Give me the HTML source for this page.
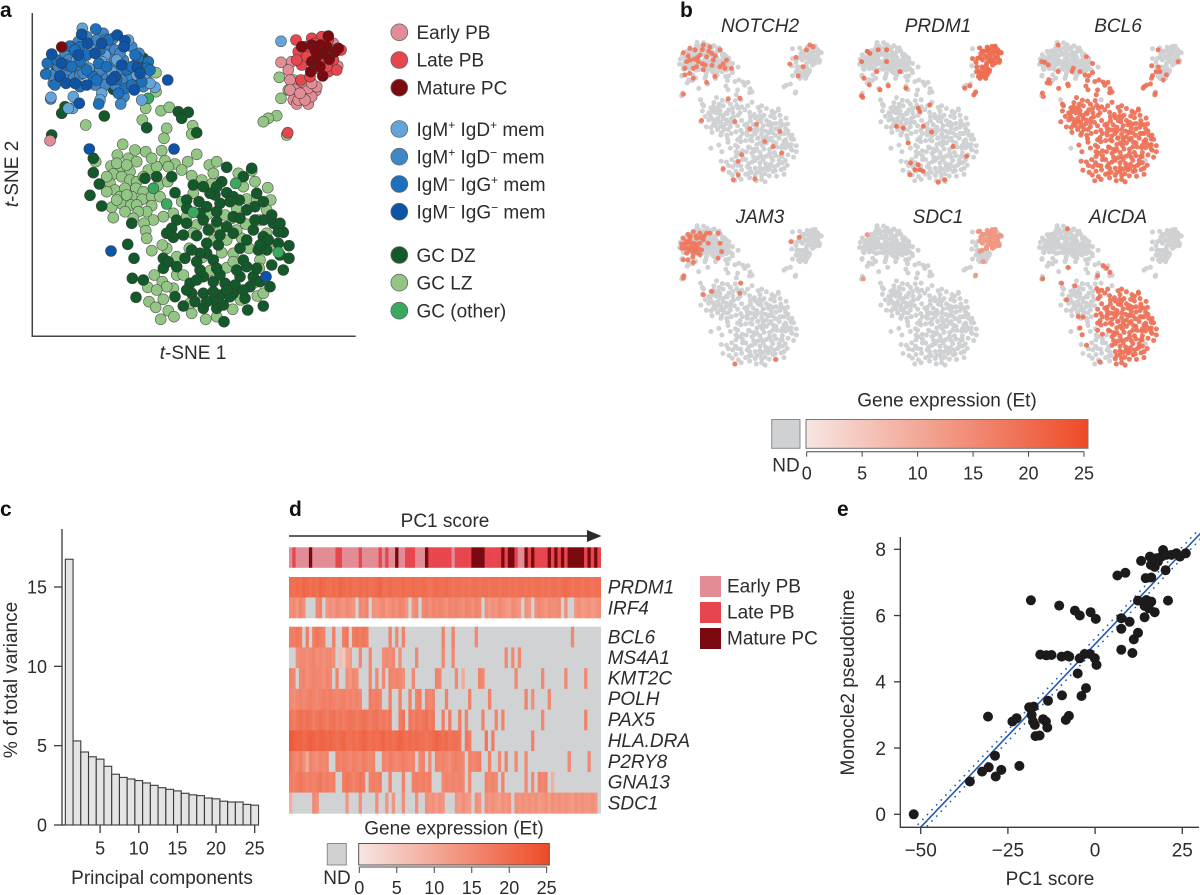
<!DOCTYPE html>
<html lang="en">
<head>
<meta charset="utf-8">
<title>Single-cell gene expression figure</title>
<style>
html,body{margin:0;padding:0;background:#fff;}
svg{display:block;}
text{font-family:"Liberation Sans",Arial,sans-serif;fill:#2c2c2c;font-size:19px;}
.it{font-style:italic;}
.letter{font-weight:bold;font-size:21px;fill:#111;}
.mid{text-anchor:middle;}
</style>
</head>
<body>
<svg id="fig" xmlns="http://www.w3.org/2000/svg" width="1200" height="895" viewBox="0 0 1200 895">
<defs>
<linearGradient id="etGrad" x1="0" x2="1" y1="0" y2="0">
<stop offset="0" stop-color="#f6e6e2"/>
<stop offset="1" stop-color="#ee4b27"/>
</linearGradient>
<clipPath id="eClip"><rect x="900" y="531" width="300" height="296"/></clipPath>
</defs>

<text class="letter" x="0" y="17">a</text>
<text class="letter" x="680" y="17">b</text>
<text class="letter" x="0" y="516">c</text>
<text class="letter" x="289" y="516">d</text>
<text class="letter" x="837" y="516">e</text>

<g id="panelA">
<path d="M32.3 13V336.3H355.7" fill="none" stroke="#444" stroke-width="1.5"/>
<text class="mid" x="193" y="359"><tspan font-style="italic">t</tspan>-SNE 1</text>
<text class="mid" transform="rotate(-90 18 174)" x="18" y="174"><tspan font-style="italic">t</tspan>-SNE 2</text>
</g>

<g id="legendA">
<text x="416.5" y="39">Early PB</text>
<text x="416.5" y="66.5">Late PB</text>
<text x="416.5" y="94.5">Mature PC</text>
<text x="416.5" y="136">IgM<tspan font-size="12" dy="-7">+</tspan><tspan dy="7"> IgD</tspan><tspan font-size="12" dy="-7">+</tspan><tspan dy="7"> mem</tspan></text>
<text x="416.5" y="163.5">IgM<tspan font-size="12" dy="-7">+</tspan><tspan dy="7"> IgD</tspan><tspan font-size="12" dy="-7">−</tspan><tspan dy="7"> mem</tspan></text>
<text x="416.5" y="191">IgM<tspan font-size="12" dy="-7">−</tspan><tspan dy="7"> IgG</tspan><tspan font-size="12" dy="-7">+</tspan><tspan dy="7"> mem</tspan></text>
<text x="416.5" y="218.5">IgM<tspan font-size="12" dy="-7">−</tspan><tspan dy="7"> IgG</tspan><tspan font-size="12" dy="-7">−</tspan><tspan dy="7"> mem</tspan></text>
<text x="416.5" y="262">GC DZ</text>
<text x="416.5" y="289.5">GC LZ</text>
<text x="416.5" y="317.5">GC (other)</text>
</g>

<g id="panelB">
<text class="it mid" x="760" y="32">NOTCH2</text>
<text class="it mid" x="938" y="32">PRDM1</text>
<text class="it mid" x="1118" y="32">BCL6</text>
<text class="it mid" x="760" y="223">JAM3</text>
<text class="it mid" x="938" y="223">SDC1</text>
<text class="it mid" x="1118" y="223">AICDA</text>
<text class="mid" x="947" y="406.5">Gene expression (Et)</text>
<rect x="771.7" y="419.5" width="28.3" height="28.8" fill="#cfd1d3" stroke="#8c8c8c" stroke-width="1"/>
<text class="mid" x="786" y="471.5">ND</text>
<rect x="806" y="419.5" width="282" height="28.8" fill="url(#etGrad)" stroke="#777" stroke-width="1"/>
</g>

<g id="panelC">
<text class="mid" x="162" y="884">Principal components</text>
<text class="mid" transform="rotate(-90 17 680)" x="17" y="680">% of total variance</text>
</g>

<g id="panelD">
<text class="mid" x="445" y="527">PC1 score</text>
<path d="M289 536H590" stroke="#2c2c2c" stroke-width="1.5" fill="none"/>
<path d="M587 530L601.5 536L587 542Z" fill="#2c2c2c"/>
<text x="727" y="592.5">Early PB</text>
<text x="727" y="618.5">Late PB</text>
<text x="727" y="644.5">Mature PC</text>
<rect x="700" y="576" width="21" height="21" fill="#e28d95"/>
<rect x="700" y="602" width="21" height="21" fill="#e8464f"/>
<rect x="700" y="628" width="21" height="21" fill="#7b0a10"/>
<text class="mid" x="454" y="834.5">Gene expression (Et)</text>
<rect x="327.3" y="843.5" width="19" height="21.5" fill="#cfd1d3" stroke="#8c8c8c" stroke-width="1"/>
<text class="mid" x="337" y="884">ND</text>
<rect x="358.7" y="843.5" width="190.6" height="21.5" fill="url(#etGrad)" stroke="#555" stroke-width="1"/>
</g>

<g id="panelE">
<text class="mid" x="1050" y="885">PC1 score</text>
<text class="mid" transform="rotate(-90 854 682.5)" x="854" y="682.5">Monocle2 pseudotime</text>
</g>
</svg>

<script>
// ---------- Panel a: t-SNE embedding (arbitrary t-SNE units) ----------
const gcLz=[[468,782],[437,675],[483,668],[508,678],[427,640],[257,625],[500,615],[492,585],[578,623],[575,598],[468,725],[838,768],[865,730],[843,705],[830,653],[805,645],[790,635],[860,595],[880,760],
[368,567],[405,550],[437,545],[352,535],[385,525],[410,515],[333,502],[362,490],[287,515],[485,548],[495,518],[525,508],[590,537],[563,515],[628,505],[650,515],[445,490],[390,485],[340,478],[365,470],[390,460],[410,455],[330,450],[345,430],[375,435],[408,435],[430,425],[360,410],[395,410],[427,402],[455,410],[475,445],[503,455],[362,390],[393,385],[335,378],[455,383],[375,365],[340,347],[575,473],[605,460],[637,450],[715,480],[755,488],[765,455],[580,420],[545,395],[520,360],[490,350],[460,340],[432,330],[437,308],[440,285],[740,403],[803,437],[812,400],[800,370],[710,375],[622,357],[560,350],[590,325],[628,312],[695,345],[737,328],[777,340],[725,285],[680,280],[825,262],[780,220],[778,195],[747,255],[665,242],[607,228],[568,255],[500,255],[487,265],[455,248],[680,197],[630,188],[463,175],[487,155],[530,175],[520,135],[443,138],[490,102],[447,95],[467,78],[505,68],[482,42],[522,50],[575,60],[617,42],[698,72],[772,112],[722,100],
[350,510],[320,470],[380,505],[430,470],[470,500],[455,525],[350,400],[410,385],[320,425],[380,415],[440,365],[415,365],[505,500],[545,490],[480,410],[400,345],[640,480],[675,355],[730,440],[770,400],[660,310],[710,310],[800,300],[700,240],[640,280],[580,300],[530,230],[550,175],[500,140],[570,90],[650,50],[700,215],[760,150],[790,120],[470,130]];
const gcDz=[[430,825],[340,732],[170,790],[195,680],[185,660],[313,652],[440,617],[155,595],[535,665],[565,663],[545,645],[590,602],
[680,498],[755,495],[280,525],[280,482],[298,448],[270,414],[305,382],[395,330],[383,267],[402,225],[397,165],[430,160],[408,108],[435,465],[470,470],[515,470],[525,422],[597,395],[620,380],[665,455],[680,422],[645,415],[660,390],[650,365],[580,445],[700,410],[770,420],[765,380],[718,400],[740,370],[815,355],[680,320],[650,335],[530,340],[515,315],[520,288],[550,295],[590,293],[760,310],[790,290],[820,330],[850,303],[805,280],[620,270],[655,265],[720,255],[867,263],[867,225],[775,250],[815,205],[850,190],[810,140],[790,82],[743,70],[672,35],[490,225],[490,195],[555,225],[600,190],[570,150],[610,170],[640,155],[675,150],[720,170],[750,140],[700,120],[660,115],[610,120],[575,120],[525,110],[550,82],[610,75],[650,75],[735,105],[640,100],[710,190],[760,170],[620,240],[730,220],[640,220],[600,240],[700,350],[560,400],[610,340],[575,250],[690,110],[620,95],[590,160],[660,175],[740,200],[800,250],[835,305],[790,340],[630,420],[690,395],
[610,440],[650,440],[730,470],[790,395],[840,330],[560,330],[500,300],[625,310],[660,295],[700,300],[740,280],[780,265],[835,270],[840,235],[780,155],[705,145],[670,85],[585,95],[640,125],[680,130],[730,130],[770,195],[560,130],[505,215],[530,200],[590,215],[650,195],[560,375],[600,360],[720,345],[765,340]];
const gcOther=[[460,435],[500,388],[580,363],[707,450],[835,243],[445,705]];
const igmPosIgdNeg=[[310,900],[330,865],[195,840],[330,835],[340,805],[220,830],[232,795],[160,750],[290,880],[318,882],[370,820],[395,860],[305,765],[322,770],[372,710],[362,688],[152,703],[417,840],[360,785],[390,770],[430,740],[270,780],[285,785],[210,775],[190,775],[240,775],[345,850],[360,840],[235,875],[410,810],[260,890],[340,885],[205,820],[175,800],[155,775],[200,790],[250,780],[300,790],[345,745],[315,745],[285,745],[400,745],[365,760],[440,760]];
const igmPosIgdPos=[[247,915],[250,810],[267,795],[218,675],[205,675],[305,720],[465,738],[425,700],[432,775],[843,876],[153,708],[315,835],[230,820],[335,785],[275,850],[305,815],[350,820],[220,710],[410,775],[385,880],[300,700],[450,750]];
const igmNegIggPos=[[287,913],[210,862],[142,810],[137,778],[198,805],[296,810],[296,688],[375,735],[350,762],[300,850],[445,815],[440,795],[380,790],[240,860],[260,835],[240,815],[165,745],[425,755],[415,825],[180,770],[280,770],[395,800],[320,800],[225,850],[260,790],[325,880],[405,835],[395,745],[170,820],[215,800],[355,720],[240,740],[290,760],[450,790]];
const igmNegIggNeg=[[245,897],[155,838],[263,870],[285,840],[352,895],[375,878],[180,772],[198,750],[225,750],[260,745],[238,690],[412,798],[403,730],[503,760],[268,553],[522,553],[333,247],[798,170],[372,860],[345,770],[185,810],[305,870],[335,760],[235,835],[420,780],[365,805]];
const earlyPb=[[843,813],[875,815],[865,790],[885,732],[910,725],[947,728],[880,700],[890,688],[925,688],[935,710],[925,735],[1013,802],[1000,870],[150,578],[905,755],[870,760],[895,700],[915,700],[870,730],[950,740],[900,720],[935,750]];
const latePb=[[888,880],[935,885],[965,890],[895,845],[905,805],[960,810],[1023,850],[985,785],[903,760],[863,602],[930,770],[955,795],[1000,820],[985,880],[1010,790],[945,870],[915,860],[980,800],[920,830],[1000,850],[890,820]];
const maturePc=[[985,892],[935,865],[962,865],[1005,845],[970,840],[935,815],[988,822],[932,785],[968,772],[185,859],[905,860],[1015,855],[950,830],[945,850],[980,860],[960,800]];
const legendSwatchRows=[["early-pb",32.3],["late-pb",60],["mature-pc",87.7],["igm-pos-igd-pos",129],["igm-pos-igd-neg",156.7],["igm-neg-igg-pos",184],["igm-neg-igg-neg",211.7],["gc-dz",255],["gc-lz",282.7],["gc-other",310.7]];
const groupColors={gcLz:"#93c684",gcDz:"#14592a",gcOther:"#3aa95f",igmPosIgdNeg:"#3f87c8",igmPosIgdPos:"#63a5da",igmNegIggPos:"#1c70bc",igmNegIggNeg:"#0e53a5",earlyPb:"#e28d95",latePb:"#e8464f",maturePc:"#7b0a10"};
const legendColors=["#e28d95","#e8464f","#7b0a10","#63a5da","#3f87c8","#1c70bc","#0e53a5","#14592a","#93c684","#3aa95f"];

// ---------- Panel b: expressing cells per gene (same t-SNE units) ----------
const notch2Cells=[[161,851],[202,878],[234,868],[286,899],[327,888],[390,868],[202,804],[254,794],[306,825],[348,804],[431,804],[171,752],[223,752],[296,773],[390,762],[462,752],[171,710],[223,689],[306,662],[358,700],[161,588],[265,836],[338,846],[244,762],[286,742],[421,752],[182,794],[951,899],[930,868],[864,821],[826,779],[910,762],[878,704],[972,888],[442,559],[514,563],[275,422],[483,416],[577,370],[618,399],[722,258],[774,216],[525,206],[504,164],[410,118],[504,80],[608,53],[473,48],[670,290],[764,353],[230,810],[280,870],[190,830],[320,860],[360,830],[280,780],[200,720],[250,820],[340,770],[410,780]];
const prdm1Cells=[[202,846],[254,868],[306,868],[150,794],[244,731],[306,794],[390,731],[165,689],[198,647],[265,616],[317,641],[427,626],[157,569],[504,500],[514,479],[577,521],[369,385],[410,374],[535,385],[587,349],[441,280],[456,154],[504,143],[535,101],[452,80],[483,111],[514,111],[629,32],[670,48],[722,258],[806,196],[795,626],[826,641],[851,584]];
const bcl6Cells=[[254,899],[150,794],[192,773],[254,731],[348,752],[390,731],[421,710],[202,657],[317,641],[161,573],[878,868],[1003,794],[889,731],[930,710],[837,689],[910,678],[785,626],[858,584]];
const jam3Cells=[[223,878],[265,868],[306,868],[379,868],[161,836],[202,836],[244,836],[286,826],[182,805],[223,805],[265,805],[150,773],[192,773],[234,762],[275,762],[182,742],[223,742],[265,731],[161,700],[223,683],[317,805],[390,805],[400,752],[379,710],[161,584],[165,599],[327,868],[254,773],[213,773],[171,773],[202,815],[244,784],[833,815],[885,842],[519,553],[338,500],[286,479],[514,489],[483,42],[737,70],[190,860],[210,790],[240,800],[170,800],[200,760],[250,745],[150,800],[290,850],[270,840],[220,720],[190,700],[240,850],[205,850],[180,815],[225,770]];
const sdc1Cells=[[878,878],[1003,804],[889,752],[930,773],[910,689],[161,580]];
const aicdaCells=[[535,662],[556,647],[577,620],[500,599],[275,552],[358,536],[306,447],[157,580],[311,895],[317,651],[379,342],[404,227],[390,269],[431,160],[514,55],[410,338]];
const prdm1Groups=["earlyPb","latePb","maturePc"];
const bcl6Groups=["gcLz","gcDz","gcOther"];
const sdc1Groups=["latePb","maturePc"];
const aicdaGroups=["gcLz","gcDz","gcOther"];
const aicdaGateMinX=[490,590];
const aicdaGateMaxY=[520,230];
const aicdaGateMinY=[230,0];
const geneEtLevels=[18,20,19,18,13,19];
const geneNames=["notch2","prdm1","bcl6","jam3","sdc1","aicda"];

// ---------- Colour-bar ticks ----------
const etTicks=[0,5,10,15,20,25];

// ---------- Panel c: variance explained ----------
const pcVariance=[16.75,5.3,4.6,4.3,4.15,3.7,3.2,3.0,2.9,2.8,2.65,2.5,2.35,2.25,2.15,2.0,1.9,1.85,1.7,1.65,1.5,1.45,1.45,1.3,1.25];
const pcXTicks=[5,10,15,20,25];
const pcYTicks=[0,5,10,15];

// ---------- Panel d: heatmap ----------
const cellClass=[0,1,0,0,0,0,2,0,0,0,0,0,0,0,1,1,0,0,0,0,0,1,0,0,0,0,0,1,0,1,0,0,2,0,0,1,1,1,0,0,0,2,1,1,1,1,1,1,1,0,1,1,1,1,1,2,2,2,2,1,1,1,1,1,2,1,2,2,1,0,0,2,1,2,1,1,1,1,2,1,2,1,2,1,2,2,2,2,2,1,2,1,2,1];
const classColors=["#e28d95","#e8464f","#7b0a10"];
const etPRDM1=[19,19,20,19,21,20,19,20,19,21,20,19,19,20,19,21,20,19,20,19,19,20,19,20,19,19,20,21,19,19,20,19,19,19,20,19,19,20,19,19,20,19,18,19,20,19,19,20,19,18,19,19,18,19,18,19,19,18,19,19,18,19,19,18,19,19,18,19,18,19,19,18,19,18,19,19,18,19,18,19,19,18,19,20,19,18,19,19,18,19,19,18,19,19];
const etIRF4=[14,15,13,16,14,0,0,0,15,16,0,13,14,13,15,14,13,15,14,13,0,15,14,16,0,14,13,14,15,13,14,15,14,16,15,13,0,14,15,0,15,16,14,16,15,16,15,14,16,15,16,15,14,16,15,14,16,15,0,14,12,14,13,15,14,13,12,15,14,13,0,14,13,0,14,15,14,13,15,14,14,15,0,14,0,0,13,14,12,13,14,12,13,14];
const etBCL6=[17,17,18,17,0,17,0,17,18,17,16,0,0,17,0,0,17,18,0,17,18,17,18,17,0,0,0,0,0,0,16,0,15,0,16,0,0,0,0,0,0,0,0,0,0,0,16,0,0,16,0,0,0,0,0,0,15,0,0,0,0,0,0,0,0,0,0,0,0,0,0,0,0,0,0,0,0,0,0,0,0,0,0,0,0,15,0,0,0,0,0,0,0,0];
const etMS4A1=[0,0,14,15,15,14,15,16,14,15,14,15,15,14,0,7,5,11,12,0,0,15,0,0,15,0,0,0,14,15,14,15,0,14,0,0,0,0,15,0,0,0,0,0,0,0,15,0,0,15,0,0,0,0,0,0,0,0,0,0,0,0,0,0,0,15,0,15,0,15,0,0,0,0,0,0,0,0,0,0,0,0,0,0,0,0,0,0,0,0,0,0,0,0];
const etKMT2C=[16,15,0,15,16,14,15,16,15,15,14,16,15,0,16,0,0,14,13,15,14,0,0,0,15,0,15,0,15,0,16,15,16,15,14,0,0,15,0,0,0,0,0,0,16,15,0,0,0,0,15,0,10,0,0,0,0,16,15,0,0,0,0,0,0,0,0,0,15,0,0,0,0,0,0,0,15,0,0,0,0,0,0,15,0,0,0,0,0,15,0,0,0,0];
const etPOLH=[15,14,15,16,15,16,17,16,15,16,17,16,17,16,15,16,17,15,16,15,16,15,0,0,17,16,17,16,0,0,16,0,0,16,0,0,16,0,16,17,0,16,15,16,0,0,0,16,0,0,0,0,0,0,16,0,0,0,0,0,16,0,0,0,0,0,0,0,0,0,0,16,0,14,0,0,0,0,15,0,0,0,0,0,0,0,0,0,0,0,0,0,0,0];
const etPAX5=[18,17,18,19,18,19,18,17,18,19,18,17,18,19,17,18,17,18,19,18,17,18,19,18,17,18,19,17,18,17,18,0,0,17,18,0,18,17,18,17,18,19,17,18,0,0,17,0,17,0,0,17,0,16,0,0,0,0,16,0,0,0,16,0,16,0,0,0,0,0,0,0,0,0,0,0,15,0,0,0,0,0,0,0,0,0,0,0,0,16,0,0,0,0];
const etHLADRA=[23,22,21,21,20,21,22,21,20,21,21,20,21,20,19,20,21,19,19,20,19,20,21,20,19,20,19,20,21,19,20,19,20,21,20,19,20,19,20,19,19,18,19,20,21,20,19,20,18,19,19,18,0,18,17,0,0,0,0,18,0,17,0,0,0,0,0,0,0,0,0,0,0,16,0,0,0,0,0,0,0,0,0,0,0,0,0,0,0,0,0,0,0,0];
const etP2RY8=[18,16,15,17,14,10,16,15,14,16,15,16,0,0,17,16,17,16,15,17,16,15,17,16,15,16,0,0,16,15,17,16,15,16,17,16,15,16,0,15,16,0,15,0,16,15,16,15,14,16,17,16,15,0,16,15,16,17,0,0,16,0,0,15,0,16,0,0,15,0,0,15,0,0,0,0,0,0,0,0,0,0,0,0,15,0,0,0,0,0,15,0,0,0];
const etGNA13=[17,16,17,18,17,16,17,16,17,18,16,17,16,17,0,0,17,18,17,16,17,18,17,0,16,17,16,17,0,0,16,0,0,0,16,0,0,16,17,16,17,16,17,0,0,0,15,16,15,16,15,16,15,0,15,0,0,0,0,16,15,16,15,0,16,0,0,0,0,0,0,15,0,15,0,16,15,16,0,9,0,0,0,0,0,0,0,0,0,0,0,0,0,0];
const etSDC1=[9,0,0,0,0,0,0,15,14,0,0,0,0,0,0,0,0,13,0,0,0,14,0,0,0,0,14,0,0,13,0,13,0,0,14,0,0,0,14,0,0,14,13,14,12,14,13,0,0,0,13,12,14,13,12,0,14,13,0,14,13,14,13,12,14,13,14,0,14,13,14,13,14,13,14,12,13,14,12,14,13,14,13,14,13,12,14,13,14,13,13,14,13,0];
const upperGenes=["PRDM1","IRF4"];
const lowerGenes=["BCL6","MS4A1","KMT2C","POLH","PAX5","HLA.DRA","P2RY8","GNA13","SDC1"];
const upperRows=[etPRDM1,etIRF4];
const lowerRows=[etBCL6,etMS4A1,etKMT2C,etPOLH,etPAX5,etHLADRA,etP2RY8,etGNA13,etSDC1];

// ---------- Panel e: PC1 score vs pseudotime ----------
const pc1Score=[-52,-35.9,-32.4,-30.5,-28.5,-26.9,-28.7,-21.7,-30.7,-23.7,-22.5,-18.9,-17.6,-18.2,-17.8,-17.3,-17.1,-15.9,-14.9,-14.1,-13.7,-13.5,-9.5,-3.9,-2.6,-8.4,-7.5,-5,-15.7,-14,-12.5,-9.6,-7.9,-7.4,-4.4,-3,-1.5,-0.1,0.4,-18.4,-10.3,-5.8,-4.4,-1.3,0.2,7.5,7.5,7.5,10.7,9.9,11.1,12.3,14.2,17.1,16.1,14.7,12.3,14.2,15.4,20.9,6.4,8.7,14.5,16.1,20.2,13.2,15.7,16,17.1,17.6,19,19.5,20.4,21.9,23.3,24.3,26,18];
const pseudotime=[0,0.99,1.29,1.42,1.14,1.34,1.77,1.46,2.95,2.8,2.9,3.23,3.25,3.0,2.8,2.7,2.36,2.38,2.87,2.8,2.62,3.43,3.59,3.57,3.81,2.85,2.97,4.25,4.82,4.8,4.81,4.76,4.79,4.76,4.71,4.84,4.84,4.71,4.51,6.46,6.3,6.15,6.0,6.1,5.9,5.92,5.6,4.97,4.87,5.81,5.28,5.48,5.95,6.1,6.42,6.47,6.45,6.29,6.22,6.45,7.21,7.29,7.13,7.15,7.37,7.65,7.78,7.53,7.47,7.73,7.78,7.98,7.83,7.83,7.88,7.78,7.88,7.63];
const fitCoefficients=[5.14,0.1106];
const fitCiHalfWidth=[0.17];
const eXTicks=[-50,-25,0,25];
const eYTicks=[0,2,4,6,8];

// ---------- Drawing helpers ----------
const NS="http://www.w3.org/2000/svg";
function mk(parent,tag,attrs,txt){
  const el=document.createElementNS(NS,tag);
  for(const k in attrs){el.setAttribute(k,attrs[k]);}
  if(txt!==undefined){el.textContent=txt;}
  parent.appendChild(el);
  return el;
}
function linear(d0,d1,r0,r1){return v=>r0+(v-d0)*(r1-r0)/(d1-d0);}
function etColor(et){
  const t=Math.max(0,Math.min(1,et/25));
  const a=[246,230,226],b=[238,75,39];
  return "rgb("+a.map((c,i)=>Math.round(c+(b[i]-c)*t)).join(",")+")";
}
const ND_COLOR="#d0d2d4";

// ---------- Panel a ----------
const panelA=document.getElementById("panelA");
const ax=linear(97,1067,32.33,355.67);
const ay=linear(-8,960,336,13.33);
const orderA=[["gcLz",gcLz],["gcDz",gcDz],["gcOther",gcOther],["igmPosIgdNeg",igmPosIgdNeg],["igmPosIgdPos",igmPosIgdPos],["igmNegIggPos",igmNegIggPos],["igmNegIggNeg",igmNegIggNeg],["earlyPb",earlyPb],["latePb",latePb],["maturePc",maturePc]];
orderA.forEach(([name,pts])=>{
  pts.forEach(p=>{
    const c=mk(panelA,"circle",{cx:ax(p[0]).toFixed(1),cy:ay(p[1]).toFixed(1),r:5.5,fill:groupColors[name],stroke:"#333","stroke-width":0.6,"stroke-opacity":0.75});
    
    
  });
});
const legendA=document.getElementById("legendA");
legendSwatchRows.forEach((row,i)=>{
  const c=mk(legendA,"circle",{cx:399.3,cy:row[1],r:8.4,fill:legendColors[i],stroke:"#666","stroke-width":0.8});
  
  
});

// ---------- Panel b ----------
const panelB=document.getElementById("panelB");
const groupsByName={gcLz,gcDz,gcOther,igmPosIgdNeg,igmPosIgdPos,igmNegIggPos,igmNegIggNeg,earlyPb,latePb,maturePc};
const allCells=[].concat(gcLz,gcDz,gcOther,igmPosIgdNeg,igmPosIgdPos,igmNegIggPos,igmNegIggNeg,earlyPb,latePb,maturePc);
const smallX=linear(140,1023,0,141.3);
const smallY=linear(920,38,0,139.6);
const panelOriginX=[680,860,1040,680,860,1040];
const panelOriginY=[41.7,41.7,41.7,225,225,225];
function groupCells(names){return names.reduce((acc,n)=>acc.concat(groupsByName[n]),[]);}
const aicdaGated=groupCells(aicdaGroups).filter(p=>aicdaGateMinX.some((mx,i)=>p[0]>=mx&&p[1]<aicdaGateMaxY[i]&&p[1]>=aicdaGateMinY[i]));
const geneExpressed=[notch2Cells,groupCells(prdm1Groups).concat(prdm1Cells),groupCells(bcl6Groups).concat(bcl6Cells),jam3Cells,groupCells(sdc1Groups).concat(sdc1Cells),aicdaGated.concat(aicdaCells)];
geneNames.forEach((g,i)=>{
  const group=mk(panelB,"g",{});
  
  
  const ox=panelOriginX[i],oy=panelOriginY[i];
  allCells.forEach(p=>{
    const c=mk(group,"circle",{cx:(ox+smallX(p[0])).toFixed(1),cy:(oy+smallY(p[1])).toFixed(1),r:2.5,fill:"#cfd1d3"});
    
    
  });
  geneExpressed[i].forEach(p=>{
    const c=mk(group,"circle",{cx:(ox+smallX(p[0])).toFixed(1),cy:(oy+smallY(p[1])).toFixed(1),r:2.5,fill:etColor(geneEtLevels[i]),"fill-opacity":0.9});
    
    
  });
});
function colorbarAxis(parent,scale,lineY,tickLen,labelY,fontSize,name){
  const line=mk(parent,"path",{d:"M"+scale(etTicks[0])+" "+lineY+"H"+scale(etTicks[etTicks.length-1]),stroke:"#444","stroke-width":1,fill:"none"});
  
  
  etTicks.forEach(t=>{
    const tick=mk(parent,"line",{x1:scale(t),x2:scale(t),y1:lineY,y2:lineY+tickLen,stroke:"#444","stroke-width":1});
    
    
    const lab=mk(parent,"text",{x:scale(t),y:labelY,class:"mid","font-size":fontSize,style:"font-size:"+fontSize+"px"},String(t));
    
    
  });
}
colorbarAxis(panelB,linear(0,25,806.7,1084),451.7,5,479.5,18,'colorbar-b');

// ---------- Panel c ----------
const panelC=document.getElementById("panelC");
const cy=linear(0,15,825,587);
const cx=linear(1,25,69.2,254.7);
const barW=7.73;
pcVariance.forEach((v,i)=>{
  const x=cx(i+1)-barW/2;
  const b=mk(panelC,"rect",{x:x.toFixed(2),y:cy(v).toFixed(2),width:barW,height:(cy(0)-cy(v)).toFixed(2),fill:"#e4e4e4",stroke:"#3a3a3a","stroke-width":1.1});
  
  
});
const cAxis=mk(panelC,"path",{d:"M62 529V825",stroke:"#3a3a3a","stroke-width":1.3,fill:"none"});


pcYTicks.forEach(t=>{
  const tk=mk(panelC,"line",{x1:54,x2:t===0?65:62,y1:cy(t),y2:cy(t),stroke:"#3a3a3a","stroke-width":1.3});
  
  
  const lb=mk(panelC,"text",{x:47,y:cy(t)+6.5,"text-anchor":"end",style:"font-size:18px"},String(t));
  
  
});
pcXTicks.forEach(t=>{
  const tk=mk(panelC,"line",{x1:cx(t),x2:cx(t),y1:825,y2:833,stroke:"#3a3a3a","stroke-width":1.3});
  
  
  const lb=mk(panelC,"text",{x:cx(t),y:854.5,class:"mid",style:"font-size:18px"},String(t));
  
  
});

// ---------- Panel d ----------
const panelD=document.getElementById("panelD");
const nCols=cellClass.length;
const dx=linear(0,nCols,289,600.7);
const colW=dx(1)-dx(0);
cellClass.forEach((c,i)=>{
  const r=mk(panelD,"rect",{x:dx(i).toFixed(2),y:547.3,width:(colW+0.3).toFixed(2),height:20.5,fill:classColors[c]});
  
  
});
function heatRows(genes,rows,top,h,labelYs){
  rows.forEach((vals,ri)=>{
    vals.forEach((v,i)=>{
      const r=mk(panelD,"rect",{x:dx(i).toFixed(2),y:(top+ri*h).toFixed(2),width:(colW+0.3).toFixed(2),height:(h+0.3).toFixed(2),fill:v>0?etColor(v):ND_COLOR});
      
      
    });
    const t=mk(panelD,"text",{x:607.7,y:labelYs[ri]+6.8,class:"it"},genes[ri]);
    
    
  });
}
heatRows(upperGenes,upperRows,577,20.5,[586.7,607.7]);
heatRows(lowerGenes,lowerRows,626.7,20.74,[636.7,657,677.7,698,719,740,761,781.7,802.7]);
colorbarAxis(panelD,linear(0,25,359.3,546.7),867,6,894,18,'colorbar-d');

// ---------- Panel e ----------
const panelE=document.getElementById("panelE");
const ex=linear(-50,25,920.7,1182.3);
const ey=linear(0,8,814.3,549.3);
const clipG=mk(panelE,"g",{"clip-path":"url(#eClip)"});


pc1Score.forEach((s,i)=>{
  const d=mk(panelE,"circle",{cx:ex(s).toFixed(1),cy:ey(pseudotime[i]).toFixed(1),r:5,fill:"#1c1a1b"});
  
  
});
function fitPath(off){
  const x0=-60,x1=35;
  const y=x=>fitCoefficients[0]+fitCoefficients[1]*x+off;
  return "M"+ex(x0)+" "+ey(y(x0))+"L"+ex(x1)+" "+ey(y(x1));
}
[fitCiHalfWidth[0],-fitCiHalfWidth[0]].forEach(off=>{
  const l=mk(clipG,"path",{d:fitPath(off),stroke:"#2559ad","stroke-width":1.7,"stroke-dasharray":"0.1 6.6","stroke-linecap":"round",fill:"none"});
  
  
});
const fitLine=mk(clipG,"path",{d:fitPath(0),stroke:"#2559ad","stroke-width":1.6,fill:"none"});


const eAxes=mk(panelE,"path",{d:"M900.3 537V827.3H1199",stroke:"#3a3a3a","stroke-width":1.3,fill:"none"});


eYTicks.forEach(t=>{
  const tk=mk(panelE,"line",{x1:894,x2:900.3,y1:ey(t),y2:ey(t),stroke:"#3a3a3a","stroke-width":1.3});
  
  
  const lb=mk(panelE,"text",{x:886,y:ey(t)+6.8,"text-anchor":"end"},String(t));
  
  
});
eXTicks.forEach(t=>{
  const tk=mk(panelE,"line",{x1:ex(t),x2:ex(t),y1:827.3,y2:834,stroke:"#3a3a3a","stroke-width":1.3});
  
  
  const lb=mk(panelE,"text",{x:ex(t),y:856.5,class:"mid"},(t<0?"−":"")+Math.abs(t));
  
  
});
</script>
</body>
</html>
